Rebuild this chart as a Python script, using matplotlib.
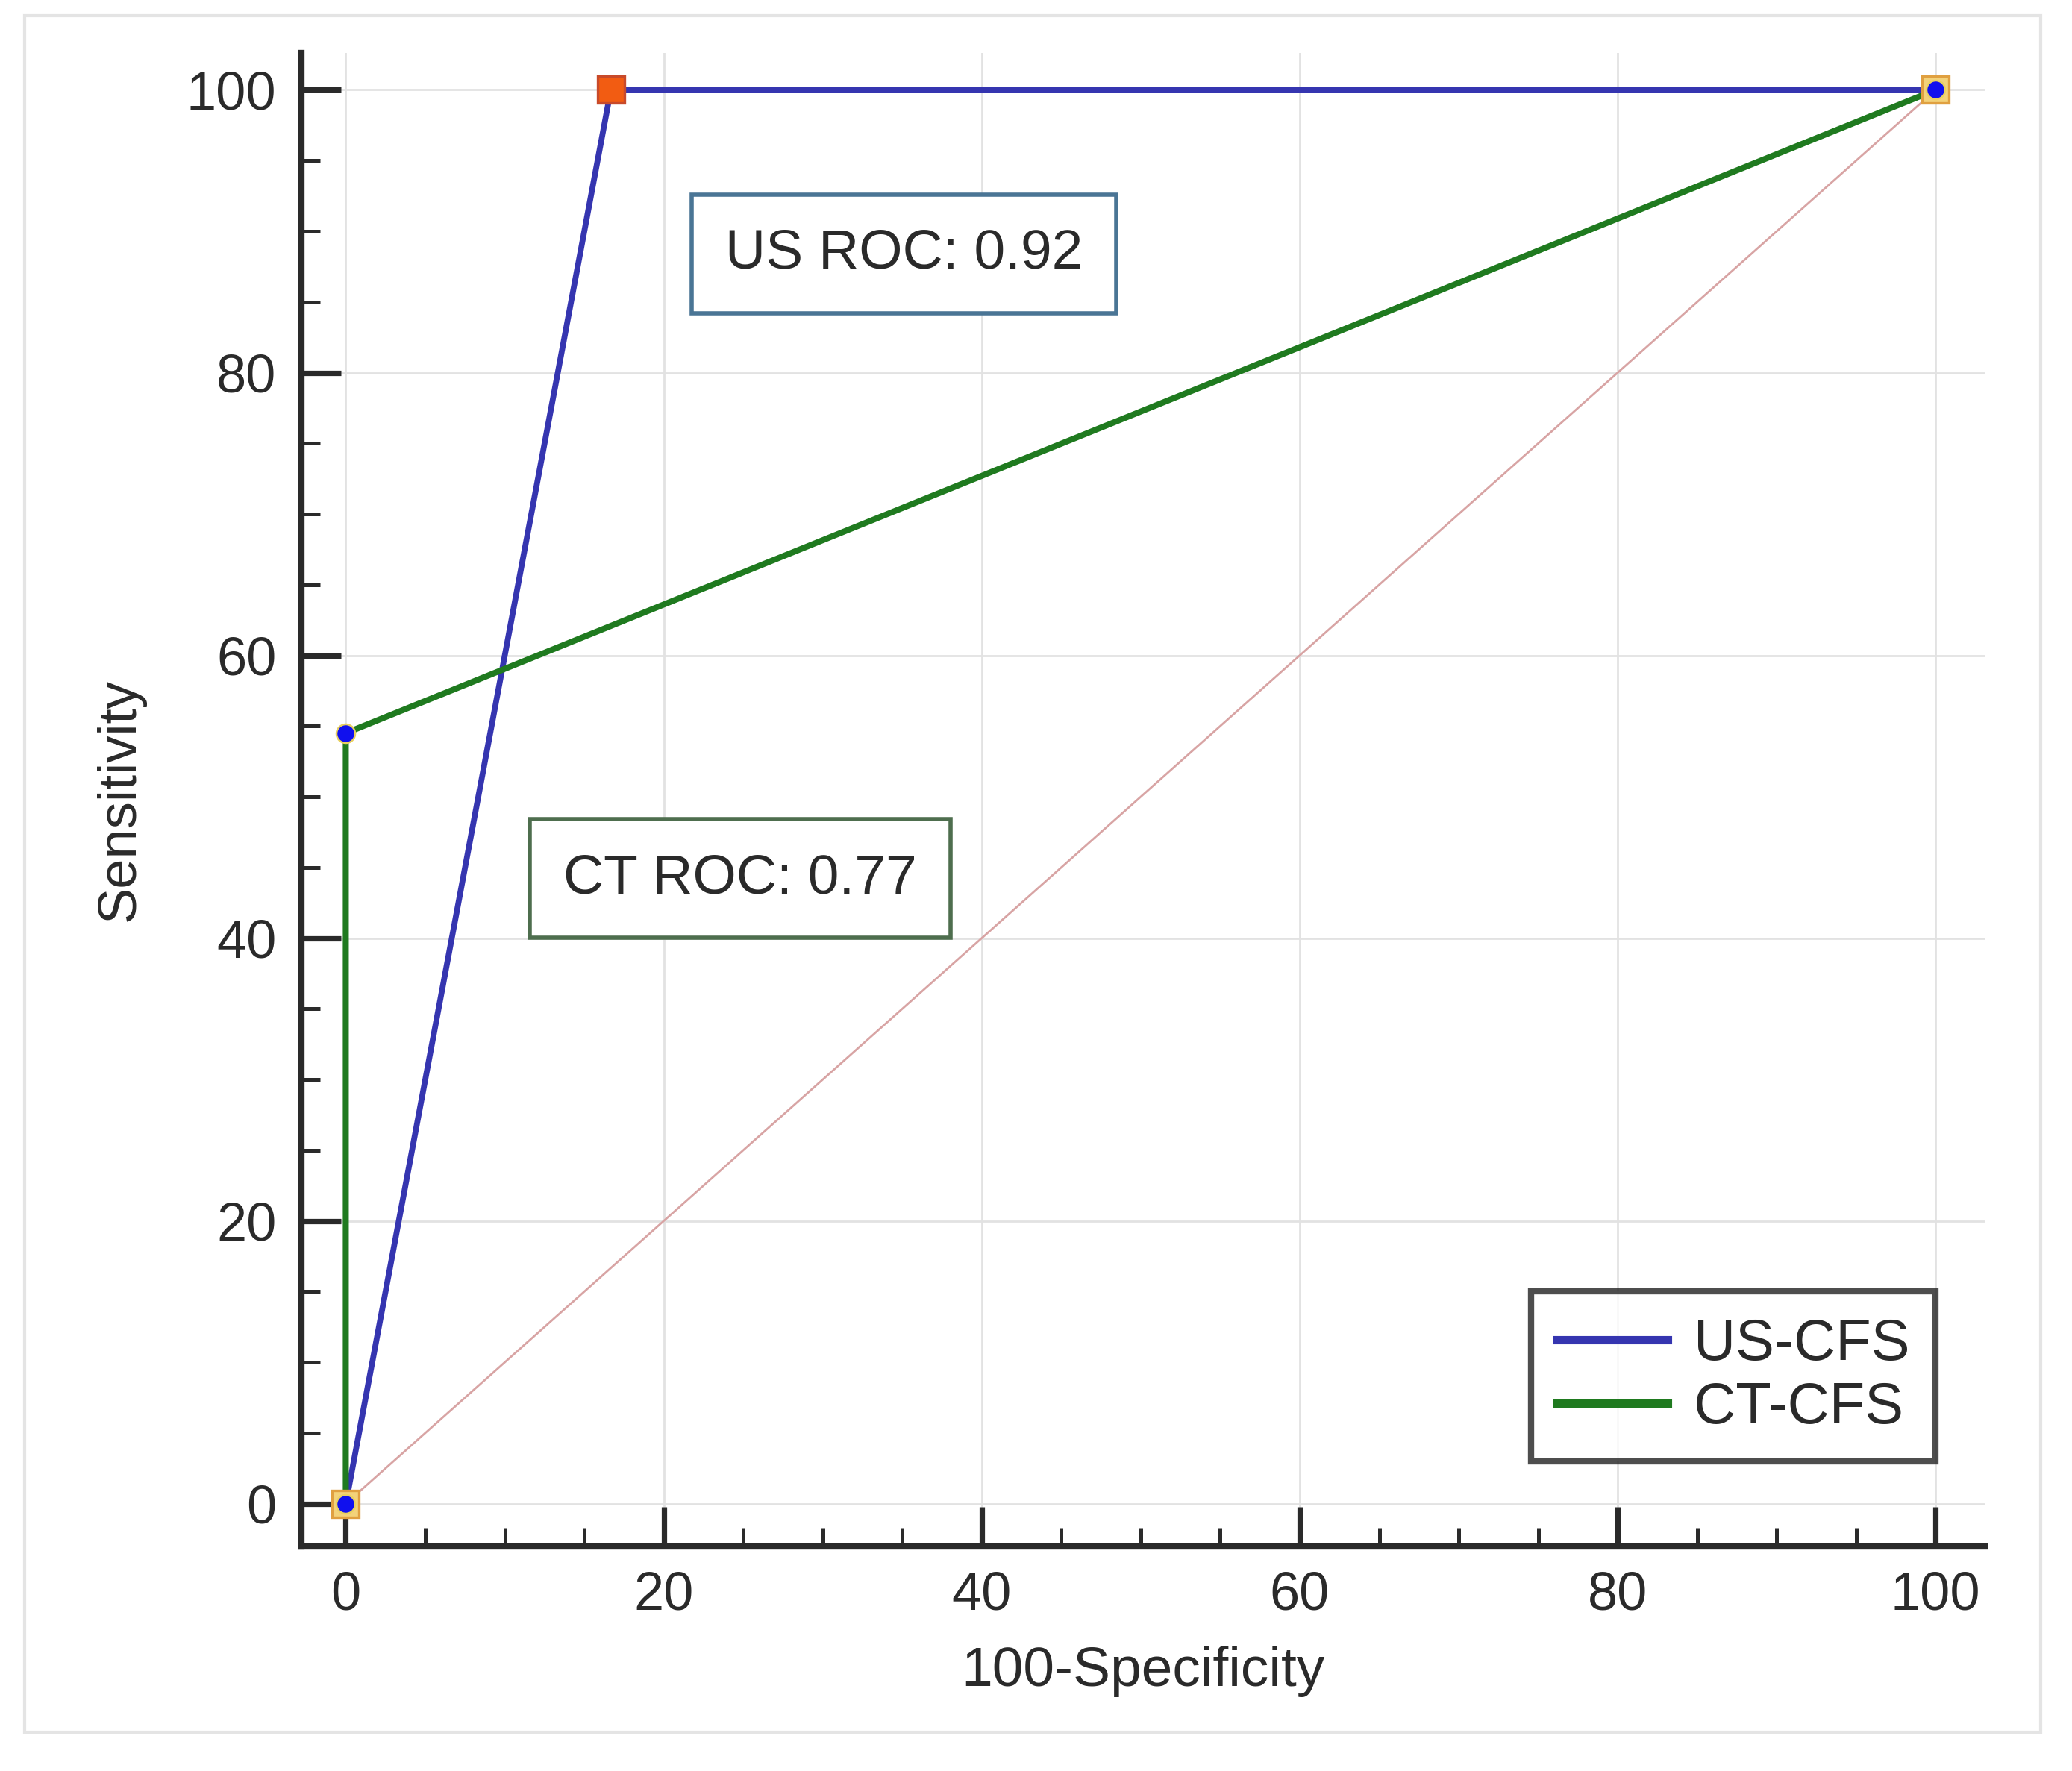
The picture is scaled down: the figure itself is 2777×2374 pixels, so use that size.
import matplotlib.pyplot as plt
from matplotlib.patches import Rectangle
from matplotlib.ticker import MultipleLocator

# ROC points (100-Specificity, Sensitivity)
us_x = [0, 16.67, 100]
us_y = [0, 100, 100]
ct_x = [0, 0, 100]
ct_y = [0, 54.5, 100]
ref_x = [0, 100]
ref_y = [0, 100]
us_auc = 0.92
ct_auc = 0.77

plt.rcParams['font.family'] = ['Liberation Sans', 'DejaVu Sans']
txt = '#2a2a2a'

fig = plt.figure(figsize=(13.885, 11.87), dpi=200)
fig.patches.append(Rectangle((0.012, 0.022), 0.973, 0.969, transform=fig.transFigure,
                             fill=False, edgecolor='#e4e4e4', linewidth=1.5))
ax = fig.add_axes([0.1454, 0.127, 0.8126, 0.843])

ax.plot(ref_x, ref_y, color='#d8a4a4', linewidth=1.0, zorder=2)
ax.plot(us_x, us_y, color='#3535b0', linewidth=2.8, label='US-CFS', zorder=3)
ax.plot(ct_x, ct_y, color='#1f7a1f', linewidth=2.9, label='CT-CFS', zorder=4)

# point markers
ax.plot([0, 100], [0, 100], linestyle='none', marker='s', markersize=13,
        markerfacecolor='#f3d27a', markeredgecolor='#e0a040', markeredgewidth=1.2, zorder=5)
ax.plot([us_x[1]], [us_y[1]], linestyle='none', marker='s', markersize=13,
        markerfacecolor='#f25c12', markeredgecolor='#c84a2a', markeredgewidth=1.2, zorder=6)
ax.plot([0, 0, 100], [0, ct_y[1], 100], linestyle='none', marker='o', markersize=9,
        markerfacecolor='#1010ee', markeredgecolor='#e8d060', markeredgewidth=0.9, zorder=7)

ax.set_xlim(-2.8, 103.1)
ax.set_ylim(-3, 102.6)
ax.xaxis.set_major_locator(MultipleLocator(20))
ax.yaxis.set_major_locator(MultipleLocator(20))
ax.xaxis.set_minor_locator(MultipleLocator(5))
ax.yaxis.set_minor_locator(MultipleLocator(5))
ax.grid(True, which='major', color='#e2e2e2', linewidth=1.0, zorder=0)
ax.set_axisbelow(True)

for side in ['top', 'right']:
    ax.spines[side].set_visible(False)
for side in ['left', 'bottom']:
    ax.spines[side].set_linewidth(3.0)
    ax.spines[side].set_color('#2a2a2a')

ax.tick_params(which='major', direction='in', length=19, width=2.6, color='#2a2a2a',
               labelsize=26, labelcolor=txt, pad=12)
ax.tick_params(which='minor', direction='in', length=9, width=1.8, color='#2a2a2a')

ax.set_xlabel('100-Specificity', fontsize=27, color=txt, labelpad=12)
ax.set_ylabel('Sensitivity', fontsize=26, color=txt, labelpad=20)

ax.text(35.1, 88.4, f'US ROC: {us_auc:.2f}', fontsize=27, color=txt, ha='center', va='center',
        bbox=dict(boxstyle='square,pad=0.6', facecolor='white', edgecolor='#4a7595', linewidth=2.0),
        zorder=8)
ax.text(24.8, 44.2, f'CT ROC: {ct_auc:.2f}', fontsize=27, color=txt, ha='center', va='center',
        bbox=dict(boxstyle='square,pad=0.6', facecolor='white', edgecolor='#4e6e4e', linewidth=2.0),
        zorder=8)

leg = ax.legend(loc='lower right', bbox_to_anchor=(100, 3), bbox_transform=ax.transData,
                fontsize=28, frameon=True, fancybox=False, handlelength=1.9, handletextpad=0.45,
                borderpad=0.45, labelspacing=0.15, borderaxespad=0)
leg.get_frame().set_edgecolor('#222222')
leg.get_frame().set_linewidth(3.0)
for line in leg.get_lines():
    line.set_linewidth(4.0)
for t in leg.get_texts():
    t.set_color(txt)

fig.savefig('out.png', dpi=200)
